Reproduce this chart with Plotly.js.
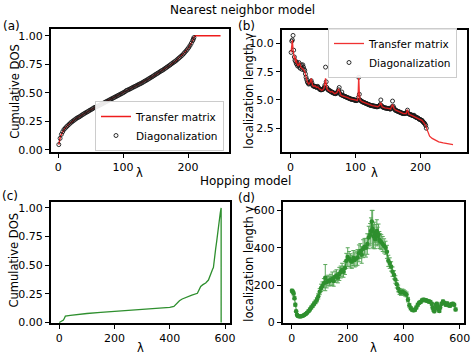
<!DOCTYPE html>
<html><head><meta charset="utf-8">
<script src="https://cdn.plot.ly/plotly-3.0.1.min.js"></script>
<style>html,body{margin:0;padding:0;background:#fff}#plot{width:474px;height:355px}</style>
</head><body><div id="plot"></div>
<script>
// (a) Nearest neighbor: cumulative DOS
const aLam = [1,2,3,5,7,10,14,18,23,28,35,42,50,60,70,80,90,100,110,120,130,140,150,160,170,180,185,190,195,200,203,206,208,209,210,250];
const aDos = [0.045,0.08,0.105,0.135,0.16,0.185,0.21,0.23,0.255,0.275,0.30,0.325,0.35,0.38,0.41,0.44,0.47,0.50,0.53,0.56,0.59,0.625,0.66,0.695,0.735,0.775,0.80,0.825,0.855,0.89,0.915,0.945,0.97,0.985,1.0,1.0];
const aDiagLam = [1,3,5,7,9,11,13,15,17,19,21,23,25,27,29,31,33,35,37,39,41,43,45,47,49,51,53,55,57,59,61,63,65,67,69,71,73,75,77,79,81,83,85,87,89,91,93,95,97,99,101,103,105,107,109,111,113,115,117,119,121,123,125,127,129,131,133,135,137,139,141,143,145,147,149,151,153,155,157,159,161,163,165,167,169,171,173,175,177,179,181,183,185,187,189,191,193,195,197,199,201,203,205,207,208,209];
const aDiagDos = [0.045,0.1,0.135,0.158,0.178,0.19,0.202,0.213,0.224,0.235,0.244,0.253,0.261,0.27,0.278,0.284,0.29,0.298,0.306,0.313,0.32,0.327,0.333,0.34,0.347,0.353,0.36,0.368,0.373,0.378,0.383,0.389,0.395,0.401,0.407,0.413,0.419,0.425,0.431,0.437,0.443,0.449,0.455,0.461,0.467,0.473,0.479,0.485,0.491,0.497,0.503,0.51,0.52,0.524,0.529,0.535,0.541,0.547,0.553,0.558,0.564,0.57,0.576,0.581,0.587,0.594,0.601,0.607,0.614,0.621,0.628,0.635,0.642,0.649,0.657,0.664,0.671,0.678,0.686,0.693,0.699,0.707,0.715,0.723,0.731,0.739,0.747,0.756,0.764,0.772,0.78,0.79,0.80,0.81,0.82,0.83,0.842,0.855,0.868,0.882,0.897,0.915,0.935,0.957,0.97,0.985];

// (b) Nearest neighbor: localization length
const bLam = [1,2,3,4,5,6,7,8,9,10,12,14,16,18,20,22,24,26,28,30,32,34,36,38,40,42,44,46,48,50,52,54,55,56,58,60,62,64,66,68,70,72,74,76,78,80,84,88,92,96,100,103,104,105,106,107,110,114,118,122,126,130,134,137,139,141,145,150,154,157,159,162,166,170,174,178,180,182,186,190,194,198,202,205,208,210,212,214,218,222,228,235,242,250];
const bGam = [9.2,10.1,10.3,9.5,9.0,8.6,8.9,8.3,8.6,8.2,8.0,8.3,7.9,7.8,7.7,7.5,7.0,6.6,6.4,6.5,6.9,6.3,6.2,6.25,6.1,6.15,6.0,5.9,5.85,5.9,6.1,6.9,6.6,6.0,5.85,5.8,5.7,5.75,5.6,5.55,5.6,5.7,6.0,5.6,5.4,5.35,5.3,5.2,5.1,5.05,4.95,4.95,5.3,7.1,5.6,5.0,4.85,4.75,4.65,4.55,4.5,4.45,4.4,4.5,4.75,4.4,4.3,4.25,4.2,4.6,4.25,4.1,4.0,3.85,3.8,3.8,4.15,3.75,3.65,3.55,3.45,3.3,3.2,3.0,2.75,2.4,2.0,1.8,1.6,1.45,1.3,1.2,1.12,1.05];
const bDiagLam = [1,2,3,4,5,6,7,8,9,10,11,12,13,14,15,16,17,18,19,20,21,22,23,24,25,26,27,28,29,30,31,32,33,34,35,36,37,38,39,40,41,42,43,44,45,46,47,48,49,50,51,52,53,54,55,56,57,58,59,60,61,62,63,64,65,66,67,68,69,70,71,72,73,74,75,76,77,78,79,80,81,82,83,84,85,86,87,88,89,90,91,92,93,94,95,96,97,98,99,100,101,102,103,104,105,106,107,108,109,110,111,112,113,114,115,116,117,118,119,120,121,122,123,124,125,126,127,128,129,130,131,132,133,134,135,136,137,138,139,140,141,142,143,144,145,146,147,148,149,150,151,152,153,154,155,156,157,158,159,160,161,162,163,164,165,166,167,168,169,170,171,172,173,174,175,176,177,178,179,180,181,182,183,184,185,186,187,188,189,190,191,192,193,194,195,196,197,198,199,200,201,202,203,204,205,206,207,208,209];
const bDiagGam = [
  9.2,10.2,10.3,10.7,9.4,8.8,8.5,8.4,8.2,8.3,
  8.0,8.1,8.3,7.9,7.8,8.0,8.1,7.7,8.1,7.9,
  7.7,7.6,7.3,7.0,6.8,6.6,6.5,6.4,6.45,6.5,
  6.6,6.7,6.5,6.3,6.25,6.2,6.2,6.2,6.15,6.1,
  6.15,6.2,6.1,6.0,5.95,5.9,5.9,5.9,5.92,5.95,
  6.0,6.1,6.3,7.9,6.6,6.1,5.95,5.9,5.85,5.82,
  5.8,5.75,5.7,5.7,5.65,5.62,5.6,5.57,5.55,5.57,
  5.6,5.65,5.75,5.9,6.1,5.6,5.5,5.45,5.7,5.4,
  5.38,5.35,5.33,5.3,5.28,5.25,5.22,5.2,5.18,5.15,
  5.12,5.1,5.08,5.05,5.05,5.05,5.02,5.0,4.98,4.95,
  4.95,4.95,4.97,5.2,7.0,5.5,5.0,4.95,4.9,4.85,
  4.82,4.8,4.78,4.75,4.72,4.7,4.68,4.65,4.62,4.6,
  4.57,4.55,4.53,4.5,4.5,4.5,4.48,4.45,4.45,4.45,
  4.42,4.4,4.4,4.4,4.42,4.45,4.5,4.6,5.0,4.5,
  4.4,4.37,4.35,4.32,4.3,4.29,4.28,4.27,4.25,4.25,
  4.25,4.22,4.2,4.2,4.25,4.4,4.9,4.45,4.3,4.2,
  4.1,4.08,4.05,4.02,4.0,3.98,3.95,3.92,3.9,3.87,
  3.85,3.82,3.8,3.8,3.8,3.8,3.8,3.85,3.9,4.1,
  3.8,3.77,3.75,3.72,3.7,3.67,3.65,3.62,3.6,3.65,
  3.55,3.5,3.48,3.45,3.43,3.4,3.35,3.3,3.28,3.25,
  3.22,3.2,3.15,3.05,3.0,2.95,2.85,2.75,2.5];

// (c) Hopping: cumulative DOS
const cLam = [0,5,10,15,18,20,22,40,60,100,150,200,250,300,350,400,415,425,435,445,460,480,500,505,512,520,530,540,548,555,558,562,566,570,575,580,583,586,586];
const cDos = [0,0.005,0.012,0.02,0.035,0.05,0.055,0.062,0.068,0.078,0.088,0.097,0.105,0.112,0.121,0.132,0.14,0.165,0.19,0.205,0.222,0.238,0.255,0.285,0.315,0.33,0.345,0.37,0.43,0.465,0.48,0.54,0.64,0.71,0.82,0.91,0.96,1.0,0];

// (d) Hopping: localization length with error bars
const dLam = [1,4,7,10,13,16,19,22,26,30,35,40,45,50,55,60,65,70,75,80,85,90,95,100,105,110,115,120,125,130,135,140,145,150,155,160,165,170,175,180,185,190,195,200,205,210,215,220,225,230,235,240,245,250,255,260,265,270,275,280,283,286,289,292,295,298,301,304,307,310,313,316,320,325,330,335,340,345,350,355,360,365,370,375,380,385,390,395,400,405,410,415,420,425,430,435,440,445,450,455,460,465,470,475,480,485,490,495,500,503,506,509,512,515,518,521,524,527,530,535,540,545,550,555,560,565,570,575,580,585];
const dGam = [170,165,155,130,95,60,41,35,33,32,33,36,40,45,52,60,70,80,90,100,110,122,140,165,185,195,210,240,215,225,220,228,235,222,245,252,240,260,270,282,272,292,330,350,340,330,325,345,335,342,348,370,382,362,395,405,400,420,455,470,490,540,500,460,482,445,470,490,460,472,442,435,430,420,410,400,378,330,318,300,272,255,230,205,182,166,160,165,160,155,150,122,92,76,68,65,68,80,95,105,110,118,122,120,118,115,112,110,100,80,68,60,75,95,100,90,70,62,80,100,112,105,95,102,92,90,98,100,95,70];
const dErr = [8,8,8,8,8,6,5,5,5,5,5,5,5,6,6,7,8,8,9,10,10,12,14,16,20,22,25,70,30,28,25,30,35,28,30,30,28,35,32,35,30,35,40,50,40,38,35,40,38,40,42,45,40,45,48,45,50,55,60,60,70,60,100,65,55,50,55,60,50,55,45,40,40,40,38,35,35,30,28,25,25,22,20,20,18,16,15,14,15,14,13,12,10,9,8,8,8,8,8,8,8,8,8,8,8,8,8,8,8,8,8,8,8,8,8,8,8,8,8,8,8,8,8,8,8,8,8,8,8,8];

const RED = '#ee1c1c', GREEN = '#2e8f2e';
const F = 'DejaVu Sans, sans-serif';
const DIAG = {symbol: 'circle-open', size: 4, color: '#1a1a1a', line: {width: 0.9, color: '#1a1a1a'}};

const traces = [
  {x: aLam, y: aDos, type: 'scatter', mode: 'lines', name: 'Transfer matrix', line: {color: RED, width: 1.5}, xaxis: 'x', yaxis: 'y', legend: 'legend'},
  {x: aDiagLam, y: aDiagDos, type: 'scatter', mode: 'markers', name: 'Diagonalization', marker: DIAG, xaxis: 'x', yaxis: 'y', legend: 'legend'},
  {x: bDiagLam, y: bDiagGam, type: 'scatter', mode: 'markers', name: 'Diagonalization', marker: DIAG, xaxis: 'x2', yaxis: 'y2', legend: 'legend2', legendrank: 2},
  {x: bLam, y: bGam, type: 'scatter', mode: 'lines', name: 'Transfer matrix', line: {color: RED, width: 1.3}, opacity: 0.9, xaxis: 'x2', yaxis: 'y2', legend: 'legend2', legendrank: 1},
  {x: cLam, y: cDos, type: 'scatter', mode: 'lines', line: {color: GREEN, width: 1.3}, xaxis: 'x3', yaxis: 'y3', showlegend: false},
  {x: dLam, y: dGam, type: 'scatter', mode: 'lines+markers', line: {color: GREEN, width: 1}, marker: {color: GREEN, size: 4.5},
   error_y: {type: 'data', array: dErr, visible: true, color: '#5aa85a', thickness: 1, width: 2},
   xaxis: 'x4', yaxis: 'y4', showlegend: false}
];

function ax(extra) {
  return Object.assign({
    showline: true, mirror: true, linecolor: '#000', linewidth: 2,
    ticks: 'outside', ticklen: 4, tickwidth: 1, tickcolor: '#000',
    showgrid: false, zeroline: false, automargin: false,
    tickfont: {family: F, size: 11, color: '#000'}
  }, extra);
}
const TF = {family: F, size: 11.5, color: '#000'};
function lab(text, xpx, ypx, angle, size) {
  return {text: text, x: xpx / 474, y: 1 - ypx / 355, xref: 'paper', yref: 'paper', showarrow: false,
          xanchor: 'center', yanchor: 'middle', textangle: angle || 0,
          font: {family: F, size: size || 11.5, color: '#000'}};
}

const layout = {
  width: 474, height: 355,
  margin: {l: 0, r: 0, t: 0, b: 0},
  paper_bgcolor: '#fff', plot_bgcolor: '#fff',
  font: {family: F, color: '#000'},
  xaxis:  ax({domain: [0.1076, 0.4831], range: [-11, 263], tickvals: [0,100,200], anchor: 'y'}),
  yaxis:  ax({domain: [0.5718, 0.9183], range: [-0.02, 1.06], tickvals: [0,0.25,0.5,0.75,1], tickformat: '.2f', anchor: 'x'}),
  xaxis2: ax({domain: [0.5949, 0.9852], range: [-13, 271.5], tickvals: [0,100,200], anchor: 'y2'}),
  yaxis2: ax({domain: [0.5718, 0.9155], range: [0.4, 11.18], tickvals: [2.5,5,7.5,10], tickformat: '.1f', anchor: 'x2'}),
  xaxis3: ax({domain: [0.1076, 0.4852], range: [-30, 618], tickvals: [0,200,400,600], anchor: 'y3'}),
  yaxis3: ax({domain: [0.0901, 0.4310], range: [-0.005, 1.052], tickvals: [0,0.25,0.5,0.75,1], tickformat: '.2f', anchor: 'x3'}),
  xaxis4: ax({domain: [0.5970, 0.9789], range: [-31, 615], tickvals: [0,200,400,600], anchor: 'y4'}),
  yaxis4: ax({domain: [0.0901, 0.4310], range: [-3, 645], tickvals: [0,200,400,600], anchor: 'x4'}),
  legend:  {x: 95/474, y: 1 - 126/355, xanchor: 'left', yanchor: 'middle', bgcolor: 'rgba(255,255,255,0.9)', bordercolor: '#ccc', borderwidth: 1, font: {family: F, size: 10.5, color: '#000'}, tracegroupgap: 0, traceorder: 'normal'},
  legend2: {x: 328/474, y: 1 - 53/355, xanchor: 'left', yanchor: 'middle', bgcolor: 'rgba(255,255,255,0.9)', bordercolor: '#ccc', borderwidth: 1, font: {family: F, size: 10.5, color: '#000'}, tracegroupgap: 0},
  annotations: [
    lab('Nearest neighbor model', 242, 10.5, 0, 12),
    lab('Hopping model', 245, 180.5, 0, 12),
    Object.assign(lab('(a)', 1, 26, 0, 12), {xanchor: 'left'}),
    Object.assign(lab('(b)', 236, 26, 0, 12), {xanchor: 'left'}),
    Object.assign(lab('(c)', 0, 196, 0, 12), {xanchor: 'left'}),
    Object.assign(lab('(d)', 236, 197.5, 0, 12), {xanchor: 'left'}),
    lab('λ', 139, 172.5),
    lab('λ', 374, 172.5),
    lab('λ', 140, 347.5),
    lab('λ', 373, 348),
    lab('Cumulative DOS', 14.7, 91, -90),
    lab('localization length γ', 248.7, 91, -90),
    lab('Cumulative DOS', 13.5, 260, -90),
    lab('localization length γ', 248.7, 264, -90)
  ]
};

Plotly.newPlot('plot', traces, layout, {staticPlot: true, displayModeBar: false});
</script>
</body></html>
